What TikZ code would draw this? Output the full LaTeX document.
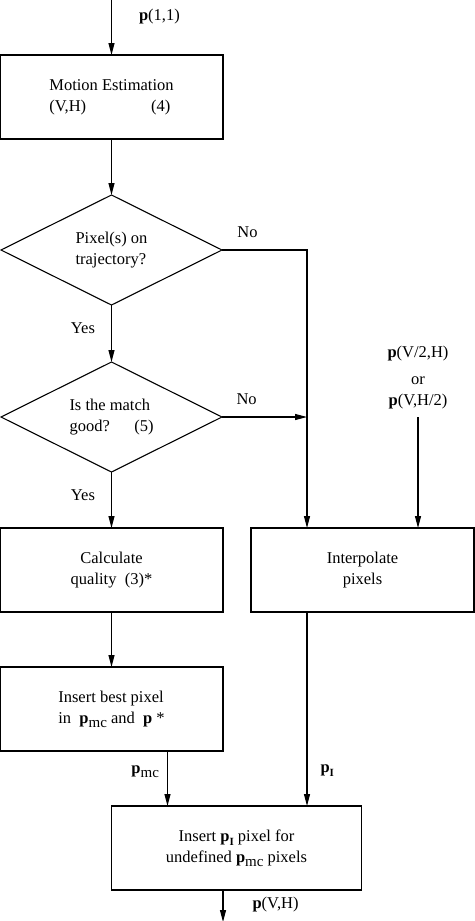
\documentclass[tikz,border=0pt]{standalone}
\usepackage{fontspec}
\setmainfont{Liberation Serif}
\usetikzlibrary{arrows.meta,positioning,calc,shapes.geometric}
\newcommand{\bp}{\textbf{p}}
\newcommand{\pmc}{\textbf{p}\raisebox{-4pt}{\fontsize{15}{15}\selectfont mc}}
\newcommand{\pint}{\textbf{p}\raisebox{-4pt}{\fontsize{11}{11}\selectfont\textbf{I}}}
\tikzset{
  box/.style={draw, line width=1.1pt, minimum width=223pt, minimum height=84pt, inner sep=0pt, outer sep=0pt, align=center},
  decision/.style={draw, diamond, aspect=2, line width=1.1pt, minimum width=221pt, minimum height=110pt, inner sep=0pt, outer sep=0pt, align=left},
  edge/.style={-{Triangle[length=12pt, width=6pt]}, line width=1.1pt},
  lbl/.style={inner sep=0pt}
}

\begin{document}
\begin{tikzpicture}[font=\fontsize{16.5}{21}\selectfont]
\useasboundingbox (0,0) rectangle (474pt,-921pt);
\coordinate (top) at (111.5pt,0);
\node[box, below=55pt of top, align=left] (me) {Motion Estimation\\\makebox[121pt]{(V,H)\hfill(4)}};
\node[decision, below=56pt of me] (traj) {Pixel(s) on\\trajectory?};
\node[decision, below=57pt of traj] (match) {Is the match\\\makebox[84pt][l]{good?\hfill(5)}};
\node[box, below=56pt of match] (qual) {Calculate\\quality\ \ (3)*};
\node[box, right=28pt of qual] (interp) {Interpolate\\pixels};
\node[box, below=55pt of qual, align=left] (best) {Insert best pixel\\in\ \ \pmc\ and\ \ \bp\ *};
\node[box, minimum width=250pt, below=55pt of best.south, anchor=north west] (merge) {Insert \pint\ pixel for\\undefined \pmc\ pixels};

\coordinate (ix) at ($(interp.north west)+(56pt,0)$);
\coordinate (iy) at ($(interp.north west)+(167pt,0)$);
\coordinate (bm) at ($(best.south)+(56pt,0)$);
\coordinate (out) at ($(merge.south)+(-13.5pt,-32pt)$);
\node[lbl, align=center, outer ysep=8pt, above=111pt of iy] (src) {\bp(V/2,H)\\[6pt]or\\\bp(V,H/2)};

\draw[edge] (top) -- node[lbl, right=27pt, pos=0.3] {\bp(1,1)} (me);
\draw[edge] (me) -- (traj);
\draw[edge] (traj) -- node[lbl, left=16pt, pos=0.4] {Yes} (match);
\draw[edge] (match) -- node[lbl, left=16pt, pos=0.41] {Yes} (qual);
\draw[edge] (qual) -- (best);
\draw[edge] (traj.east) -| node[lbl, above=12pt, pos=0.15] {No} (ix);
\draw[edge] (match.east) -- node[lbl, above=12pt, pos=0.29] {No} (match.east -| ix);
\draw[edge] (src.south) -- (iy);
\draw[edge] (interp.south -| ix) -- node[lbl, right=13pt, pos=0.82] {\pint} (merge.north -| ix);
\draw[edge] (bm) -- node[lbl, left=8pt, pos=0.38] {\pmc} (bm |- merge.north);
\draw[edge] (out |- merge.south) -- node[lbl, right=29pt, pos=0.45] {\bp(V,H)} (out);
\end{tikzpicture}
\end{document}
